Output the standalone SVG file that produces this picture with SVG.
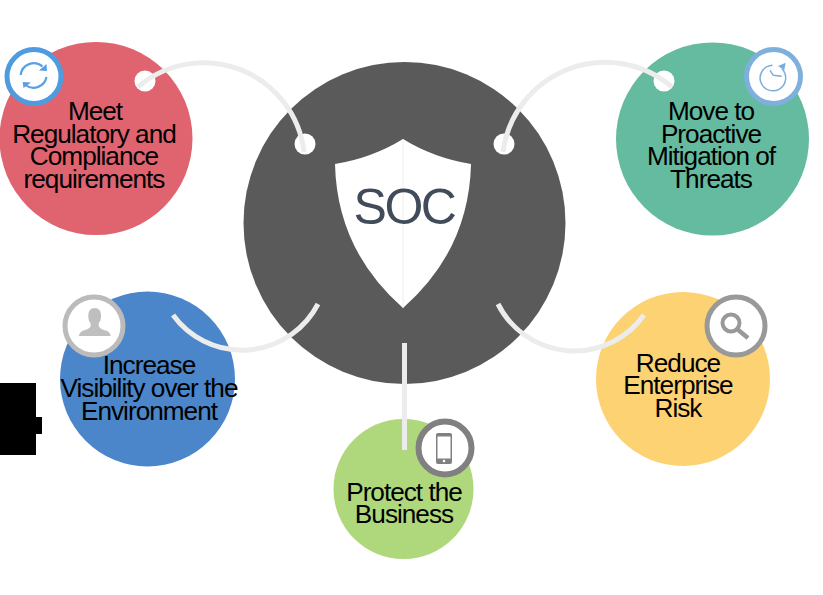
<svg xmlns="http://www.w3.org/2000/svg" width="823" height="595" viewBox="0 0 823 595">
<style>
.lbl{font-family:"Liberation Sans",Arial,sans-serif;font-size:26.2px;letter-spacing:-1px;fill:#000;text-anchor:middle}
.ring{fill:#fff;stroke-width:5}
.conn{fill:none;stroke:#ececec;stroke-width:5}
.dot{fill:#fff}
</style>
<rect width="823" height="595" fill="#fff"/>
<path id="black-shape" d="M0 383H36V417H42V434H36V455H0Z" fill="#000"/>
<g id="soc">
<circle cx="404.500" cy="223" r="161" fill="#5a5a5a"/>
<path d="M403 139Q372 158 335 164Q337 250 403 308Q469 250 471 164Q434 158 403 139Z" fill="#fff"/>
<path d="M403 139V308" stroke="#eeeeee" stroke-width="1" fill="none"/>
<text x="404" y="224" font-family="'Liberation Sans',Arial,sans-serif" font-size="50" letter-spacing="-2.500" text-anchor="middle" fill="#414b59">SOC</text>
</g>
<g id="meet">
<circle cx="96" cy="138.500" r="96.500" fill="#e06370"/>
<text class="lbl"><tspan x="95" y="120">Meet</tspan><tspan x="94" y="143">Regulatory and</tspan><tspan x="94" y="165">Compliance</tspan><tspan x="94" y="188">requirements</tspan></text>
<circle class="ring" cx="34" cy="76.500" r="27" stroke="#4f9be0"/>
<path d="M20.700 75A13.200 13.200 0 0 1 42.500 66.500M46.500 77A13.200 13.200 0 0 1 25.500 85" fill="none" stroke="#5a9fe2" stroke-width="2.200"/>
<path d="M39 70.500L47 71L46.500 64ZM22.700 82L31 82.500L23.500 88Z" fill="#5a9fe2"/>
</g>
<g id="proactive">
<circle cx="712.500" cy="139" r="96.500" fill="#65bb9f"/>
<text class="lbl"><tspan x="711" y="120">Move to</tspan><tspan x="711" y="143">Proactive</tspan><tspan x="711" y="165">Mitigation of</tspan><tspan x="711" y="188">Threats</tspan></text>
<circle class="ring" cx="773.500" cy="76.500" r="27" stroke="#7fb0dc"/>
<path d="M782 69A12.800 12.800 0 1 1 772.500 65.200M770 70.300L773.300 75.300L781.700 76.300" fill="none" stroke="#7aaedb" stroke-width="1.500"/>
<path d="M778 66L785.700 62.700L784.300 70.300Z" fill="#7aaedb"/>
</g>
<g id="visibility">
<circle cx="147.500" cy="379" r="87.500" fill="#4a86c9"/>
<text class="lbl"><tspan x="149" y="374">Increase</tspan><tspan x="149" y="397">Visibility over the</tspan><tspan x="149" y="420">Environment</tspan></text>
<circle class="ring" cx="94" cy="326" r="29" stroke="#bbbbbb"/>
<path d="M78.700 336Q80 331 85 330Q90 328.500 90.700 326L90.500 323Q88 320 88.300 315Q88.800 308 94.700 308Q100.600 308 101 315Q101.300 320 98.800 323L98.700 326Q99.500 328.500 104 330Q110 331 110.700 336Z" fill="#bfbfbf"/>
</g>
<g id="risk">
<circle cx="683" cy="379" r="87" fill="#fdd273"/>
<text class="lbl"><tspan x="678" y="372">Reduce</tspan><tspan x="678" y="394">Enterprise</tspan><tspan x="678" y="417">Risk</tspan></text>
<circle class="ring" cx="736" cy="326" r="29" stroke="#999999"/>
<circle cx="731" cy="323" r="8.500" fill="none" stroke="#999999" stroke-width="4"/>
<path d="M737 329L748 338" stroke="#999999" stroke-width="4.500" fill="none"/>
</g>
<g id="business">
<circle cx="403.500" cy="489" r="70" fill="#afd77c"/>
<text class="lbl"><tspan x="404" y="501">Protect the</tspan><tspan x="404" y="523">Business</tspan></text>
<circle class="ring" cx="445" cy="448" r="26.500" stroke="#808080" style="stroke-width:6"/>
<rect x="436" y="433" width="16" height="31" rx="2" fill="#808080"/>
<rect x="437.500" y="436.500" width="13" height="22" fill="#fff"/>
<circle cx="444" cy="461" r="1.300" fill="#fff"/>
</g>
<g id="connectors">
<circle class="dot" cx="145" cy="81" r="10.500"/>
<circle class="dot" cx="305" cy="144" r="10.500"/>
<circle class="dot" cx="504" cy="144" r="10.500"/>
<circle class="dot" cx="664" cy="81" r="10.500"/>
<path class="conn" d="M138 87A101 101 0 0 1 304 152"/>
<path class="conn" d="M503 152A103 103 0 0 1 672 87"/>
<path class="conn" d="M173 315A85.500 85.500 0 0 0 318 304"/>
<path class="conn" d="M498 304A85.500 85.500 0 0 0 644 315"/>
<path class="conn" d="M404.500 343V450"/>
</g>
</svg>
